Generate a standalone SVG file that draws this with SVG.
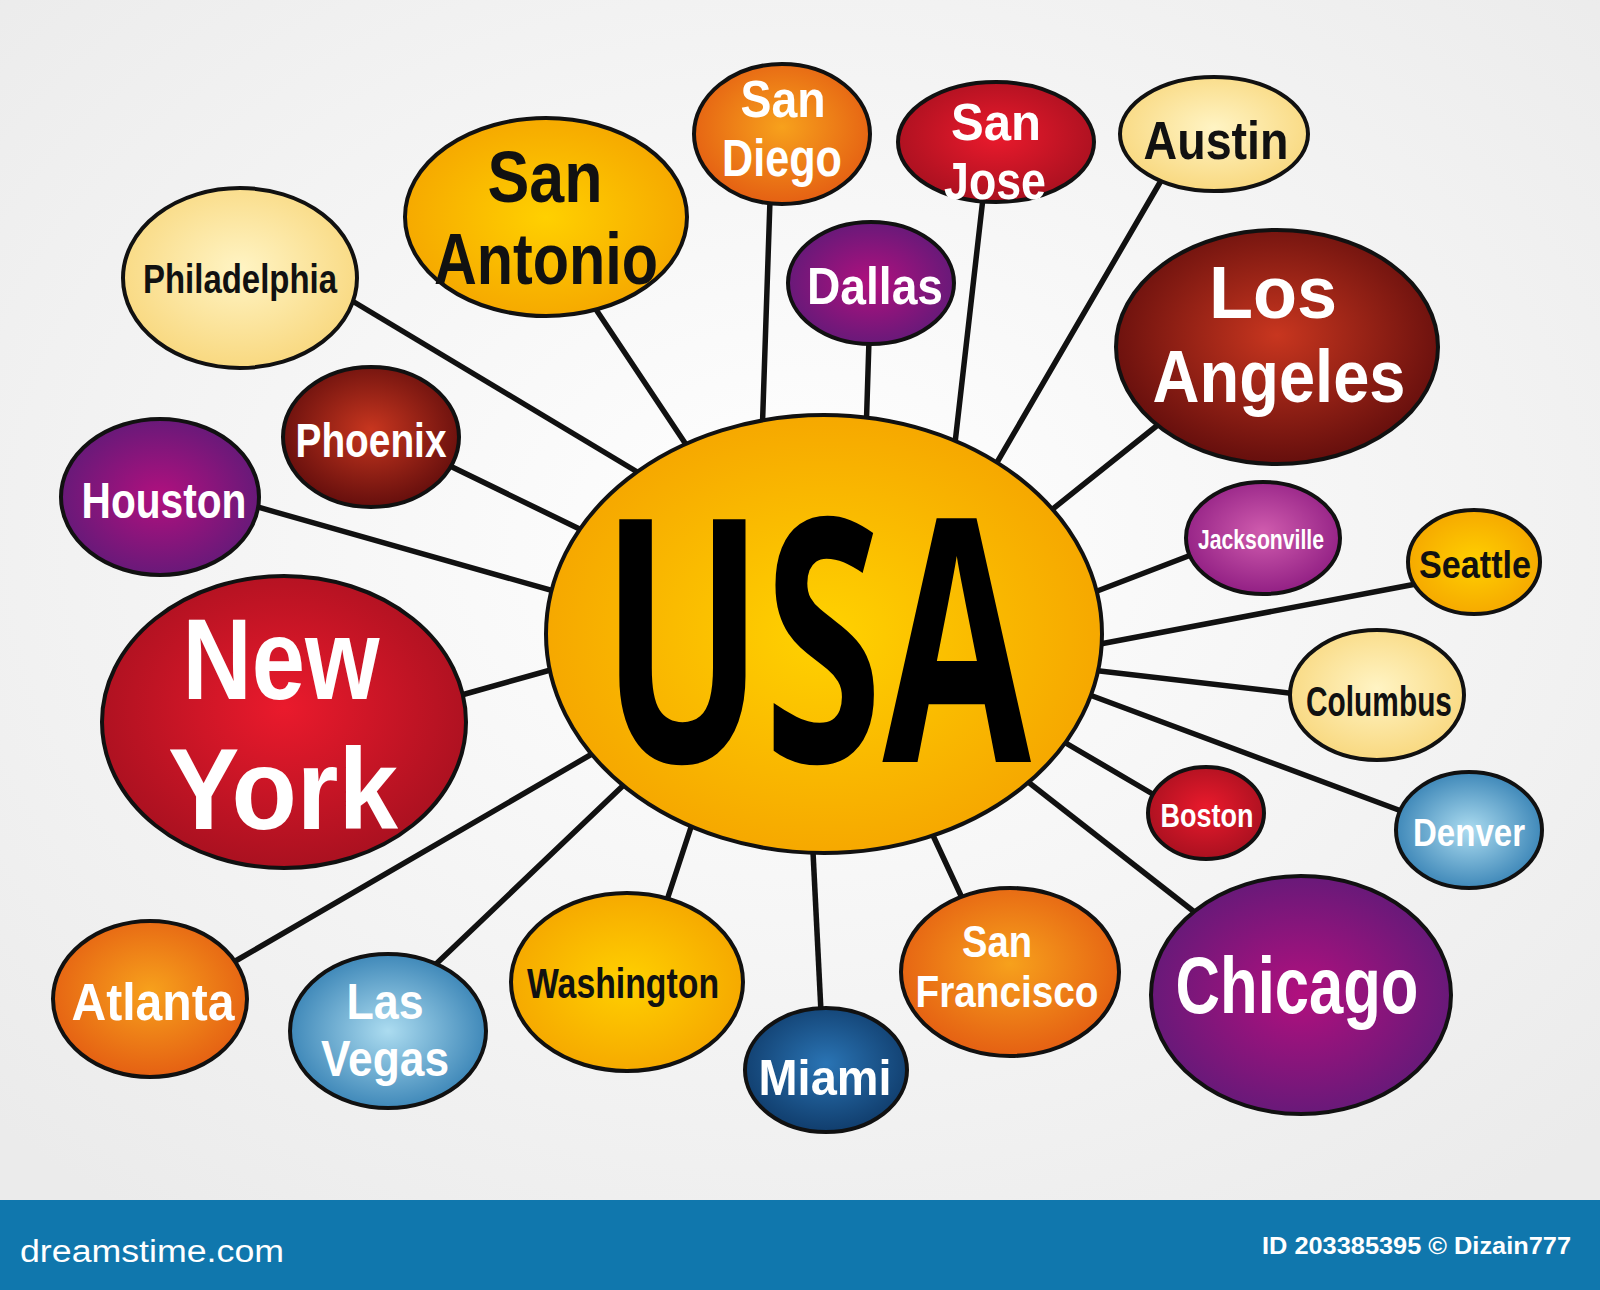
<svg xmlns="http://www.w3.org/2000/svg" width="1600" height="1290" viewBox="0 0 1600 1290">
<defs>
<radialGradient id="bg" cx="50%" cy="45%" r="70%"><stop offset="0" stop-color="#ffffff"/><stop offset="1" stop-color="#ebebeb"/></radialGradient>
<radialGradient id="gUSA" cx="50%" cy="50%" r="55%"><stop offset="0" stop-color="#ffd200"/><stop offset="1" stop-color="#f5a400"/></radialGradient>
<radialGradient id="gLY" cx="50%" cy="45%" r="60%"><stop offset="0" stop-color="#fff4c4"/><stop offset="1" stop-color="#f8d67a"/></radialGradient>
<radialGradient id="gOY" cx="50%" cy="50%" r="60%"><stop offset="0" stop-color="#ffd000"/><stop offset="1" stop-color="#f4a200"/></radialGradient>
<radialGradient id="gOR" cx="50%" cy="45%" r="60%"><stop offset="0" stop-color="#f7a11c"/><stop offset="1" stop-color="#e35a12"/></radialGradient>
<radialGradient id="gRD" cx="50%" cy="45%" r="60%"><stop offset="0" stop-color="#ea1a2c"/><stop offset="1" stop-color="#a4101f"/></radialGradient>
<radialGradient id="gDR" cx="50%" cy="45%" r="60%"><stop offset="0" stop-color="#c8361f"/><stop offset="1" stop-color="#5c0b0b"/></radialGradient>
<radialGradient id="gPU" cx="50%" cy="50%" r="60%"><stop offset="0" stop-color="#b1107e"/><stop offset="1" stop-color="#5a1b78"/></radialGradient>
<radialGradient id="gMG" cx="50%" cy="45%" r="60%"><stop offset="0" stop-color="#d05cae"/><stop offset="1" stop-color="#8c1a80"/></radialGradient>
<radialGradient id="gBL" cx="50%" cy="50%" r="60%"><stop offset="0" stop-color="#acdcf0"/><stop offset="1" stop-color="#2a78ae"/></radialGradient>
<radialGradient id="gDB" cx="50%" cy="45%" r="60%"><stop offset="0" stop-color="#2a74b4"/><stop offset="1" stop-color="#0e3866"/></radialGradient>
</defs>
<style>
.node{stroke:#111;stroke-width:4}
.con line{stroke:#111;stroke-width:5.5;stroke-linecap:round}
.lw{fill:#fff;font-family:"Liberation Sans","DejaVu Sans",sans-serif;font-weight:bold;text-anchor:middle}
.lb{fill:#111;font-family:"Liberation Sans","DejaVu Sans",sans-serif;font-weight:bold;text-anchor:middle}
.ft{fill:#fff;font-family:"Liberation Sans","DejaVu Sans",sans-serif}
</style>
<rect x="0" y="0" width="1600" height="1200" fill="url(#bg)"/>
<g id="connectors" class="con">
<line x1="349" y1="299" x2="654" y2="482"/>
<line x1="595" y1="308" x2="693" y2="455"/>
<line x1="770" y1="200" x2="762" y2="438"/>
<line x1="869" y1="340" x2="866" y2="435"/>
<line x1="983" y1="198" x2="954" y2="452"/>
<line x1="1162" y1="179" x2="992" y2="471"/>
<line x1="1159" y1="424" x2="1044" y2="516"/>
<line x1="448" y1="465" x2="596" y2="537"/>
<line x1="254" y1="506" x2="575" y2="597"/>
<line x1="458" y1="696" x2="572" y2="664"/>
<line x1="1191" y1="555" x2="1079" y2="598"/>
<line x1="1416" y1="584" x2="1079" y2="648"/>
<line x1="1297" y1="694" x2="1074" y2="668"/>
<line x1="1404" y1="812" x2="1071" y2="688"/>
<line x1="1156" y1="796" x2="1047" y2="732"/>
<line x1="1197" y1="914" x2="1014" y2="771"/>
<line x1="963" y1="900" x2="923" y2="814"/>
<line x1="821" y1="1012" x2="812" y2="832"/>
<line x1="667" y1="900" x2="695" y2="815"/>
<line x1="435" y1="965" x2="630" y2="779"/>
<line x1="232" y1="963" x2="604" y2="747"/>
</g>
<g id="usa">
<ellipse class="node" cx="824" cy="634" rx="278" ry="219" fill="url(#gUSA)" stroke-width="6"/>
<text transform="translate(816,762) scale(0.589,1)" font-family="Open Sans, DejaVu Sans, sans-serif" font-weight="700" font-size="340" fill="#000" text-anchor="middle" textLength="730" lengthAdjust="spacingAndGlyphs">USA</text>
</g>
<g id="philadelphia"><ellipse class="node" cx="240" cy="278" rx="117" ry="90" fill="url(#gLY)"/><text class="lb" transform="translate(240,293) scale(0.799,1)" font-size="40" textLength="242.7" lengthAdjust="spacingAndGlyphs">Philadelphia</text></g>
<g id="san-antonio"><ellipse class="node" cx="546" cy="217" rx="141" ry="99" fill="url(#gOY)"/><text class="lb" transform="translate(545,202) scale(0.846,1)" font-size="72" textLength="136" lengthAdjust="spacingAndGlyphs">San</text><text class="lb" transform="translate(546,284) scale(0.8,1)" font-size="72" textLength="280.1" lengthAdjust="spacingAndGlyphs">Antonio</text></g>
<g id="san-diego"><ellipse class="node" cx="782" cy="134" rx="88" ry="70" fill="url(#gOR)"/><text class="lw" transform="translate(783,116.5) scale(0.866,1)" font-size="52" textLength="98.2" lengthAdjust="spacingAndGlyphs">San</text><text class="lw" transform="translate(782,175.6) scale(0.806,1)" font-size="52" textLength="148.8" lengthAdjust="spacingAndGlyphs">Diego</text></g>
<g id="san-jose"><ellipse class="node" cx="996" cy="142" rx="98" ry="60" fill="url(#gRD)"/><text class="lw" transform="translate(996,139.5) scale(0.917,1)" font-size="52" textLength="98.2" lengthAdjust="spacingAndGlyphs">San</text><text class="lw" transform="translate(995,198.6) scale(0.835,1)" font-size="52" textLength="122.1" lengthAdjust="spacingAndGlyphs">Jose</text></g>
<g id="austin"><ellipse class="node" cx="1214" cy="134" rx="94" ry="57" fill="url(#gLY)"/><text class="lb" transform="translate(1216,159) scale(0.838,1)" font-size="54" textLength="173" lengthAdjust="spacingAndGlyphs">Austin</text></g>
<g id="dallas"><ellipse class="node" cx="871" cy="283" rx="83" ry="61" fill="url(#gPU)"/><text class="lw" transform="translate(875,304) scale(0.862,1)" font-size="52" textLength="157.8" lengthAdjust="spacingAndGlyphs">Dallas</text></g>
<g id="los-angeles"><ellipse class="node" cx="1277" cy="347" rx="161" ry="117" fill="url(#gDR)"/><text class="lw" transform="translate(1273,318) scale(0.945,1)" font-size="74" textLength="135.5" lengthAdjust="spacingAndGlyphs">Los</text><text class="lw" transform="translate(1279,401.5) scale(0.853,1)" font-size="74" textLength="296.5" lengthAdjust="spacingAndGlyphs">Angeles</text></g>
<g id="phoenix"><ellipse class="node" cx="371" cy="437" rx="88" ry="70" fill="url(#gDR)"/><text class="lw" transform="translate(371,457) scale(0.785,1)" font-size="48" textLength="192.3" lengthAdjust="spacingAndGlyphs">Phoenix</text></g>
<g id="houston"><ellipse class="node" cx="160" cy="497" rx="99" ry="78" fill="url(#gPU)"/><text class="lw" transform="translate(164,518) scale(0.79,1)" font-size="50" textLength="208.8" lengthAdjust="spacingAndGlyphs">Houston</text></g>
<g id="new-york"><ellipse class="node" cx="284" cy="722" rx="182" ry="146" fill="url(#gRD)"/><text class="lw" transform="translate(281,699) scale(0.809,1)" font-size="115" textLength="243.5" lengthAdjust="spacingAndGlyphs">New</text><text class="lw" transform="translate(283,829) scale(0.874,1)" font-size="115" textLength="263.3" lengthAdjust="spacingAndGlyphs">York</text></g>
<g id="jacksonville"><ellipse class="node" cx="1263" cy="538" rx="77" ry="56" fill="url(#gMG)"/><text class="lw" transform="translate(1261,549) scale(0.735,1)" font-size="28" textLength="171.5" lengthAdjust="spacingAndGlyphs">Jacksonville</text></g>
<g id="seattle"><ellipse class="node" cx="1474" cy="562" rx="66" ry="52" fill="url(#gOY)"/><text class="lb" transform="translate(1475,578) scale(0.873,1)" font-size="38" textLength="128.3" lengthAdjust="spacingAndGlyphs">Seattle</text></g>
<g id="columbus"><ellipse class="node" cx="1377" cy="695" rx="87" ry="65" fill="url(#gLY)"/><text class="lb" transform="translate(1379,716) scale(0.69,1)" font-size="42" textLength="211.5" lengthAdjust="spacingAndGlyphs">Columbus</text></g>
<g id="boston"><ellipse class="node" cx="1206" cy="813" rx="58" ry="46" fill="url(#gRD)"/><text class="lw" transform="translate(1207,827) scale(0.771,1)" font-size="34" textLength="120.6" lengthAdjust="spacingAndGlyphs">Boston</text></g>
<g id="denver"><ellipse class="node" cx="1469" cy="830" rx="73" ry="58" fill="url(#gBL)"/><text class="lw" transform="translate(1469,846) scale(0.844,1)" font-size="38" textLength="132.7" lengthAdjust="spacingAndGlyphs">Denver</text></g>
<g id="chicago"><ellipse class="node" cx="1301" cy="995" rx="150" ry="119" fill="url(#gPU)"/><text class="lw" transform="translate(1297,1013) scale(0.747,1)" font-size="80" textLength="325.1" lengthAdjust="spacingAndGlyphs">Chicago</text></g>
<g id="san-francisco"><ellipse class="node" cx="1010" cy="972" rx="109" ry="84" fill="url(#gOR)"/><text class="lw" transform="translate(997,957) scale(0.842,1)" font-size="44" textLength="83.1" lengthAdjust="spacingAndGlyphs">San</text><text class="lw" transform="translate(1007,1007) scale(0.855,1)" font-size="44" textLength="214.1" lengthAdjust="spacingAndGlyphs">Francisco</text></g>
<g id="miami"><ellipse class="node" cx="826" cy="1070" rx="81" ry="62" fill="url(#gDB)"/><text class="lw" transform="translate(825,1095) scale(0.911,1)" font-size="50" textLength="145.9" lengthAdjust="spacingAndGlyphs">Miami</text></g>
<g id="washington"><ellipse class="node" cx="627" cy="982" rx="116" ry="89" fill="url(#gOY)"/><text class="lb" transform="translate(623,998) scale(0.776,1)" font-size="42" textLength="247.5" lengthAdjust="spacingAndGlyphs">Washington</text></g>
<g id="las-vegas"><ellipse class="node" cx="388" cy="1031" rx="98" ry="77" fill="url(#gBL)"/><text class="lw" transform="translate(385,1019) scale(0.868,1)" font-size="50" textLength="88.7" lengthAdjust="spacingAndGlyphs">Las</text><text class="lw" transform="translate(385,1076) scale(0.844,1)" font-size="50" textLength="151.7" lengthAdjust="spacingAndGlyphs">Vegas</text></g>
<g id="atlanta"><ellipse class="node" cx="150" cy="999" rx="97" ry="78" fill="url(#gOR)"/><text class="lw" transform="translate(153,1020) scale(0.898,1)" font-size="52" textLength="181.5" lengthAdjust="spacingAndGlyphs">Atlanta</text></g>
<g id="footer">
<rect x="0" y="1200" width="1600" height="90" fill="#1077ad"/>
<text class="ft" x="20" y="1262" font-size="31" textLength="264" lengthAdjust="spacingAndGlyphs">dreamstime.com</text>
<text class="ft" x="1571" y="1254" font-size="23" font-weight="bold" text-anchor="end" textLength="309" lengthAdjust="spacingAndGlyphs">ID 203385395 © Dizain777</text>
</g>
</svg>
